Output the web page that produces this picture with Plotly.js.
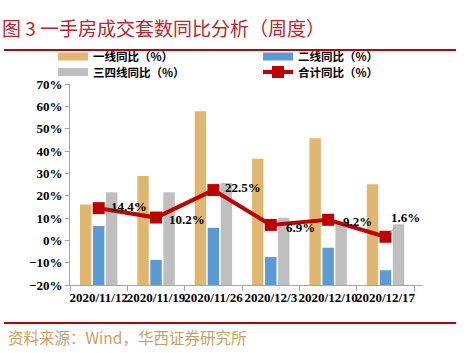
<!DOCTYPE html>
<html><head><meta charset="utf-8">
<script src="https://cdn.plot.ly/plotly-3.0.1.min.js"></script>
<style>html,body{margin:0;padding:0;background:#fff}#chart{width:474px;height:353px}</style>
</head><body><div id="chart"></div>
<script>
const categories = ["2020/11/12","2020/11/19","2020/11/26","2020/12/3","2020/12/10","2020/12/17"];
const tier1 = [16.1, 28.8, 57.8, 36.5, 45.7, 25.1];
const tier2 = [6.4, -8.8, 5.6, -7.5, -3.3, -13.4];
const tier34 = [21.5, 21.5, 25.7, 10.1, 7.2, 7.2];
const total = [14.4, 10.2, 22.5, 6.9, 9.2, 1.6];
const totalLabels = ["14.4%","10.2%","22.5%","6.9%","9.2%","1.6%"];
const seriesNames = ["一线同比（%）","二线同比（%）","三四线同比（%）","合计同比（%）"];
const axisMin = -20, axisMax = 70;
const colors = ['#E0B770', '#5B9BD5', '#BFBFBF', '#C00000'];
const legendRow = ['legend', 'legend', 'legend2', 'legend2'];

const base = categories.map(() => axisMin);
function barTrace(i, vals){
  return {type:'bar', name:seriesNames[i], legendgroup:'g'+i, showlegend:false,
    x:categories, y:vals.map(v => v - axisMin), base:base,
    marker:{color:colors[i]}, hoverinfo:'skip'};
}
function legendEntry(i){
  return {type:'scatter', mode:'lines', name:seriesNames[i], legendgroup:'g'+i, legend:legendRow[i],
    x:[categories[0]], y:[null], line:{color:colors[i], width:8}, hoverinfo:'skip'};
}
const traces = [
  barTrace(0, tier1), barTrace(1, tier2), barTrace(2, tier34),
  legendEntry(0), legendEntry(1), legendEntry(2),
  {type:'scatter', mode:'lines+markers', name:seriesNames[3], legend:legendRow[3], x:categories, y:total,
   line:{color:colors[3], width:4}, marker:{symbol:'square', size:12, color:colors[3]}}
];

const labelShift = [[30,2],[31,-2],[30,3],[30,-3],[29,-2],[0,0]];
const annotations = total.map((v,i) => {
  const a = {x:categories[i], y:v, xref:'x', yref:'y', text:'<b>'+totalLabels[i]+'</b>',
    font:{family:'Liberation Serif, serif', size:13, color:'#000'}};
  if (i === total.length-1) {
    Object.assign(a, {showarrow:true, arrowhead:0, arrowwidth:1, arrowcolor:'#A6A6A6', ax:20, ay:-19, standoff:6});
  } else {
    Object.assign(a, {showarrow:false, xshift:labelShift[i][0], yshift:labelShift[i][1]});
  }
  return a;
});
annotations.push({xref:'paper', yref:'paper', x:-70/352, y:(285-27)/201, xanchor:'left', yanchor:'middle',
  text:'图 3 一手房成交套数同比分析（周度）', showarrow:false,
  font:{family:'Noto Sans CJK SC', size:19, color:'#C0232B'}});
annotations.push({xref:'paper', yref:'paper', x:-64/352, y:(285-337)/201, xanchor:'left', yanchor:'middle',
  text:'资料来源：Wind，华西证券研究所', showarrow:false,
  font:{family:'Noto Sans CJK SC', size:15.5, color:'#C9A063'}});

const legendFont = {family:'Noto Sans CJK SC', size:11.5, color:'#000', weight:'bold'};
function legendBox(yc){
  return {orientation:'h', x:(53-70)/352, y:(285-yc)/201, xanchor:'left', yanchor:'middle',
    entrywidth:160, traceorder:'normal', bgcolor:'rgba(0,0,0,0)', font:legendFont};
}

const layout = {
  width:474, height:353,
  margin:{l:70, r:52, t:84, b:68},
  paper_bgcolor:'#fff', plot_bgcolor:'#fff',
  barmode:'group', bargap:0.32, bargroupgap:0.12,
  showlegend:true,
  legend:legendBox(56.5),
  legend2:legendBox(72),
  xaxis:{type:'category', showline:true, linecolor:'#A6A6A6', linewidth:1,
    ticks:'outside', tickson:'boundaries', ticklen:5, tickcolor:'#A6A6A6', tickangle:0,
    showgrid:false, zeroline:false,
    tickfont:{family:'Liberation Serif, serif', size:13, color:'#000', weight:'bold'}},
  yaxis:{range:[axisMin, axisMax], dtick:10, ticksuffix:'%', showline:true, linecolor:'#A6A6A6',
    linewidth:1, ticks:'outside', ticklen:4, tickcolor:'#A6A6A6', showgrid:false, zeroline:false,
    tickfont:{family:'Liberation Serif, serif', size:13, color:'#000', weight:'bold'}},
  annotations:annotations,
  shapes:[
    {type:'line', xref:'paper', yref:'paper', x0:-66/352, x1:386/352, y0:(285-50)/201, y1:(285-50)/201,
     line:{color:'#C00000', width:2}},
    {type:'line', xref:'paper', yref:'paper', x0:-66/352, x1:386/352, y0:(285-323)/201, y1:(285-323)/201,
     line:{color:'#C00000', width:2}}
  ]
};
Plotly.newPlot('chart', traces, layout, {staticPlot:true, displayModeBar:false});
</script></body></html>
